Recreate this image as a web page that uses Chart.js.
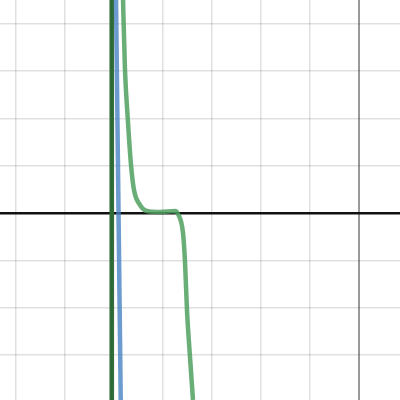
<!DOCTYPE html>
<html><head><script src="https://cdn.jsdelivr.net/npm/chart.js"></script>
<style>html,body{margin:0;padding:0;background:#fff}#w{width:400px;height:400px}</style></head>
<body><div id="w"><canvas id="c"></canvas></div>
<script>
const xTicks=[-7,-6,-5,-4,-3,-2,-1,0];
const yTicks=[-3,-2,-1,0,1,2,3,4];
const darkLineX=[-5.047,-5.047];
const darkLineY=[-3.953,4.503];
const blueX=[-4.959,-4.863];
const blueY=[4.503,-3.953];
const greenX=[-4.816,-4.776,-4.720,-4.653,-4.592,-4.469,-4.327,-4.061,-3.755,-3.694,-3.592,-3.551,-3.510,-3.449,-3.388];
const greenY=[4.503,3.023,2.008,1.015,0.486,0.169,0.042,0.021,0.042,-0.021,-0.423,-1.036,-2.072,-3.044,-3.953];
const pts=(xs,ys)=>xs.map((x,i)=>({x,y:ys[i]}));
new Chart(document.getElementById('c'),{type:'scatter',data:{datasets:[
{data:pts(greenX,greenY),borderColor:'rgba(80,160,95,0.85)',borderWidth:4.5,showLine:true,pointRadius:0,cubicInterpolationMode:'monotone'},
{data:pts(blueX,blueY),borderColor:'rgba(70,130,195,0.8)',borderWidth:4.5,showLine:true,pointRadius:0},
{data:pts(darkLineX,darkLineY),borderColor:'#2f6b38',borderWidth:4.5,showLine:true,pointRadius:0}
]},options:{responsive:true,maintainAspectRatio:false,animation:false,layout:{padding:0},
plugins:{legend:{display:false},tooltip:{enabled:false}},
scales:{
x:{min:-7.327,max:0.837,afterBuildTicks:a=>{a.ticks=xTicks.map(v=>({value:v}));},ticks:{display:false},border:{display:false},
 grid:{drawTicks:false,color:c=>c.tick&&c.tick.value===0?'rgba(0,0,0,0.4)':'rgba(0,0,0,0.12)',lineWidth:c=>c.tick&&c.tick.value===0?2:1.5}},
y:{min:-3.953,max:4.503,afterBuildTicks:a=>{a.ticks=yTicks.map(v=>({value:v}));},ticks:{display:false},border:{display:false},
 grid:{drawTicks:false,color:c=>c.tick&&c.tick.value===0?'#111':'rgba(0,0,0,0.12)',lineWidth:c=>c.tick&&c.tick.value===0?2.5:1.5}}
}}});
</script></body></html>
